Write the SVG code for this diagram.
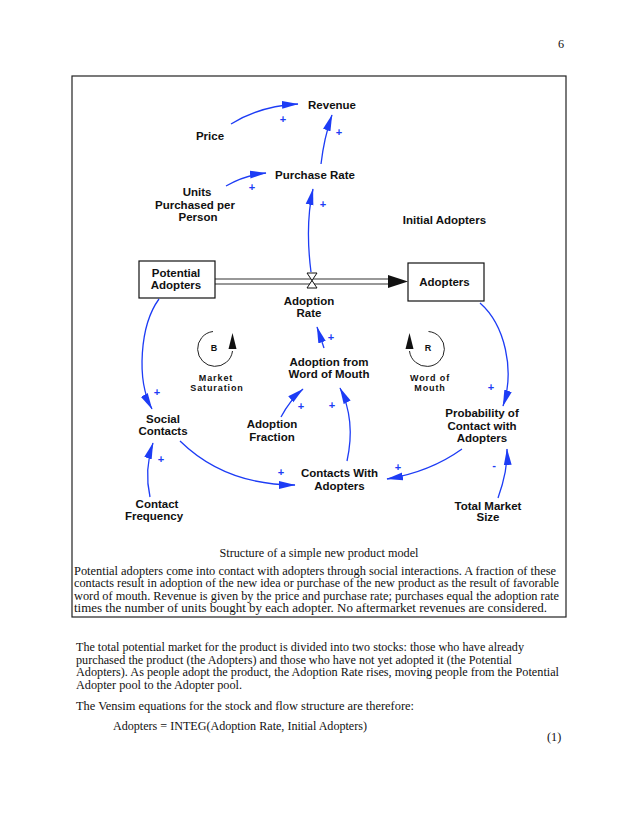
<svg xmlns="http://www.w3.org/2000/svg" width="638" height="826" viewBox="0 0 638 826" xml:space="preserve">
<style>
.lbl{font-family:"Liberation Sans",Arial,sans-serif;font-weight:bold;font-size:11.5px;fill:#111;text-anchor:middle}
.sm{font-family:"Liberation Sans",Arial,sans-serif;font-weight:bold;font-size:9px;letter-spacing:0.9px;fill:#111;text-anchor:middle}
.pol{font-family:"Liberation Sans",Arial,sans-serif;font-weight:bold;font-size:11px;fill:#1d3cf5;text-anchor:middle}
.body{font-family:"Liberation Serif","Times New Roman",serif;font-size:12.2px;fill:#111}
.cap{font-family:"Liberation Serif","Times New Roman",serif;font-size:11.8px;fill:#111}
.lnk{fill:none;stroke:#1d3cf5;stroke-width:1.3;marker-end:url(#ah)}
.loop{fill:none;stroke:#222;stroke-width:1}
.stock{fill:#fff;stroke:#111;stroke-width:1.2}
</style>
<defs>
<marker id="ah" markerUnits="userSpaceOnUse" markerWidth="17" markerHeight="9" viewBox="0 0 17 9" refX="16" refY="4.5" orient="auto">
<path d="M0,0.6 L16.5,4.5 L0,8.4 Z" fill="#1d3cf5"/>
</marker>
</defs>
<rect width="638" height="826" fill="#fff"/>
<text class="body" x="561" y="48" text-anchor="middle">6</text>
<rect x="72" y="76" width="494" height="541" fill="none" stroke="#222" stroke-width="1.2"/>

<g id="connectors">
<path class="lnk" d="M231,124 Q260,106 298,104"/>
<path class="lnk" d="M321,164 Q324,138 332,115"/>
<path class="lnk" d="M226,186 Q245,175 266,173"/>
<path class="lnk" d="M311,272 Q305,225 313,189"/>
<path class="lnk" d="M324,348 L317,327"/>
<path class="lnk" d="M159,299 C140,325 136,380 152,409"/>
<path class="lnk" d="M150,497 Q144,470 153,443"/>
<path class="lnk" d="M180,441 Q225,485 295,485"/>
<path class="lnk" d="M347,461 Q356,420 340,388"/>
<path class="lnk" d="M281,417 Q290,400 303,389"/>
<path class="lnk" d="M480,303 C505,325 515,370 503,406"/>
<path class="lnk" d="M462,449 Q430,472 387,479"/>
<path class="lnk" d="M498,498 Q508,470 507,449"/>
</g>

<g id="flow">
<line x1="215" y1="279" x2="392" y2="279" stroke="#333" stroke-width="1.2"/>
<line x1="215" y1="284" x2="392" y2="284" stroke="#333" stroke-width="1.2"/>
<polygon points="388,275 408,281.5 388,288" fill="#111"/>
<polygon points="307,273 317,273 307,288 317,288" fill="#fff" stroke="#111" stroke-width="1"/>
</g>

<g id="potential-adopters">
<rect class="stock" x="139" y="261" width="76" height="37"/>
<text class="lbl" x="176" y="277">Potential</text>
<text class="lbl" x="176" y="289">Adopters</text>
</g>
<g id="adopters">
<rect class="stock" x="408" y="263" width="76" height="38"/>
<text class="lbl" x="444.5" y="286">Adopters</text>
</g>
<g id="adoption-rate"><text class="lbl" x="309" y="305">Adoption</text><text class="lbl" x="309" y="317">Rate</text></g>
<g id="revenue"><text class="lbl" x="332" y="109">Revenue</text></g>
<g id="price"><text class="lbl" x="210" y="140">Price</text></g>
<g id="purchase-rate"><text class="lbl" x="315" y="179">Purchase Rate</text></g>
<g id="units"><text class="lbl" x="197" y="196">Units</text><text class="lbl" x="195" y="209">Purchased per</text><text class="lbl" x="198" y="221">Person</text></g>
<g id="initial-adopters"><text class="lbl" x="444.5" y="224">Initial Adopters</text></g>
<g id="wom"><text class="lbl" x="329" y="366">Adoption from</text><text class="lbl" x="329" y="378">Word of Mouth</text></g>
<g id="social-contacts"><text class="lbl" x="163" y="423">Social</text><text class="lbl" x="163" y="435">Contacts</text></g>
<g id="adoption-fraction"><text class="lbl" x="272" y="428">Adoption</text><text class="lbl" x="272" y="441">Fraction</text></g>
<g id="probability"><text class="lbl" x="482" y="417">Probability of</text><text class="lbl" x="482" y="429.5">Contact  with</text><text class="lbl" x="482" y="442">Adopters</text></g>
<g id="contacts-with-adopters"><text class="lbl" x="339.5" y="477">Contacts  With</text><text class="lbl" x="339.5" y="490">Adopters</text></g>
<g id="contact-frequency"><text class="lbl" x="157" y="508">Contact</text><text class="lbl" x="154" y="520">Frequency</text></g>
<g id="total-market-size"><text class="lbl" x="488" y="510">Total  Market</text><text class="lbl" x="488" y="520.5">Size</text></g>

<g id="loop-b">
<path class="loop" d="M213,331.5 A17.5 17.5 0 1 0 232.5,351"/>
<polygon points="228.5,349 236.5,349 232.5,333" fill="#111"/>
<text class="sm" x="214.5" y="351" letter-spacing="0">B</text>
<text class="sm" x="216" y="380.5">Market</text>
<text class="sm" x="217" y="390.5">Saturation</text>
</g>
<g id="loop-r">
<path class="loop" d="M428.5,331.5 A17.5 17.5 0 1 1 409.5,351"/>
<polygon points="405.5,349 413.5,349 409.5,333" fill="#111"/>
<text class="sm" x="428.5" y="350.5" letter-spacing="0">R</text>
<text class="sm" x="430" y="380.5">Word  of</text>
<text class="sm" x="430" y="390.5">Mouth</text>
</g>

<g id="polarities">
<text class="pol" x="283" y="123">+</text>
<text class="pol" x="339" y="136">+</text>
<text class="pol" x="252" y="191">+</text>
<text class="pol" x="323" y="208">+</text>
<text class="pol" x="331" y="341">+</text>
<text class="pol" x="157" y="396">+</text>
<text class="pol" x="491" y="391">+</text>
<text class="pol" x="301" y="410">+</text>
<text class="pol" x="332" y="409">+</text>
<text class="pol" x="161" y="463">+</text>
<text class="pol" x="281" y="476">+</text>
<text class="pol" x="398" y="471">+</text>
<text class="pol" x="494" y="469">-</text>
</g>

<g id="caption">
<text class="body" x="319" y="557" text-anchor="middle">Structure of a simple new product model</text>
<text class="cap" x="74" y="574.5" textLength="482" lengthAdjust="spacingAndGlyphs">Potential adopters come into contact with adopters through social interactions.  A fraction of these</text>
<text class="cap" x="74" y="587" textLength="485" lengthAdjust="spacingAndGlyphs">contacts result in adoption of the new idea or purchase of the new product as the result of favorable</text>
<text class="cap" x="74" y="599.5" textLength="485" lengthAdjust="spacingAndGlyphs">word of mouth.  Revenue is given by the price and purchase rate; purchases equal the adoption rate</text>
<text class="cap" x="74" y="612" textLength="473" lengthAdjust="spacingAndGlyphs">times the number of units bought by each adopter.  No aftermarket revenues are considered.</text>
</g>

<g id="body-text">
<text class="body" x="76" y="651" textLength="448" lengthAdjust="spacingAndGlyphs">The total potential market for the product is divided into two stocks:  those who have already</text>
<text class="body" x="76" y="663.5" textLength="436" lengthAdjust="spacingAndGlyphs">purchased the product (the Adopters) and those who have not yet adopted it (the Potential</text>
<text class="body" x="76" y="676" textLength="483" lengthAdjust="spacingAndGlyphs">Adopters).  As people adopt the product, the Adoption Rate rises, moving people from the Potential</text>
<text class="body" x="76" y="688.5" textLength="166" lengthAdjust="spacingAndGlyphs">Adopter pool to the Adopter pool.</text>
<text class="body" x="76" y="710" textLength="338" lengthAdjust="spacingAndGlyphs">The Vensim equations for the stock and flow structure are therefore:</text>
<text class="body" x="113" y="730" textLength="254" lengthAdjust="spacingAndGlyphs">Adopters = INTEG(Adoption Rate, Initial Adopters)</text>
<text class="body" x="547" y="741">(1)</text>
</g>
</svg>
